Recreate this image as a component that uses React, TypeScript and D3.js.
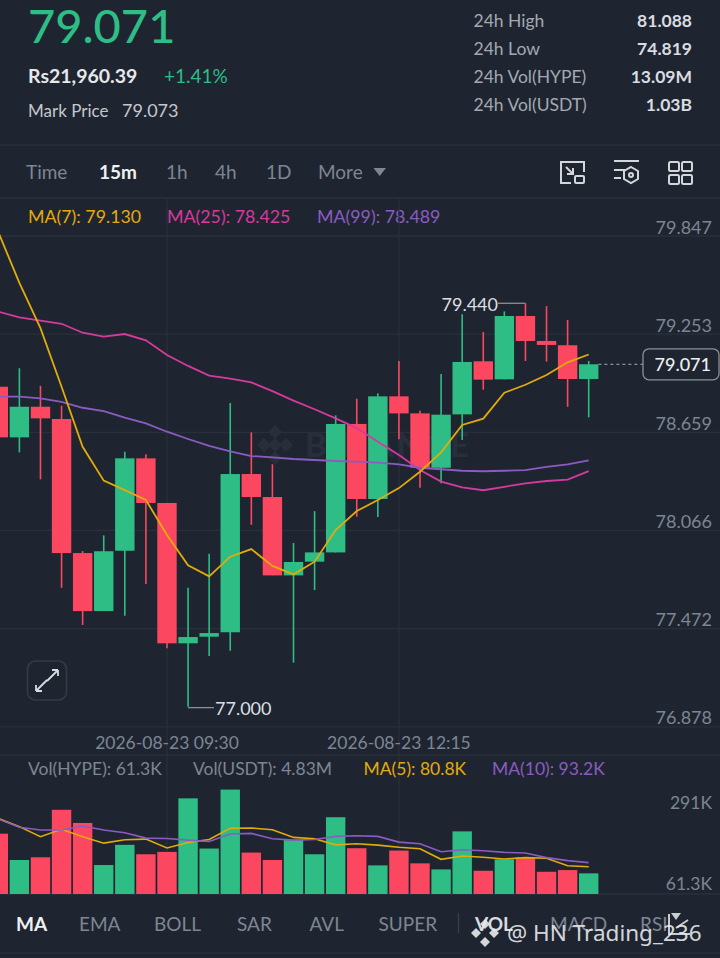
import * as d3 from "d3";
import React, { useEffect, useRef } from "react";

// 15m candles
const opens = [78.935, 78.629, 78.814, 78.74, 77.929, 77.578, 77.943, 78.502, 78.232, 77.383, 77.423, 77.45, 78.407, 78.268, 77.794, 77.877, 77.933, 78.71, 78.256, 78.877, 78.774, 78.445, 78.768, 79.089, 78.98, 79.363, 79.212, 79.186, 78.982];
const closes = [78.629, 78.814, 78.744, 77.929, 77.578, 77.94, 78.502, 78.232, 77.383, 77.421, 77.445, 78.407, 78.268, 77.794, 77.875, 77.933, 78.71, 78.256, 78.877, 78.774, 78.445, 78.766, 79.085, 78.978, 79.363, 79.212, 79.188, 78.982, 79.071];
const highs = [78.976, 79.047, 78.941, 78.82, 77.941, 78.036, 78.542, 78.526, 78.232, 77.719, 77.925, 78.837, 78.659, 78.466, 77.99, 78.183, 78.762, 78.863, 78.895, 79.091, 78.79, 79.012, 79.373, 79.266, 79.391, 79.44, 79.423, 79.339, 79.091];
const lows = [78.583, 78.538, 78.375, 77.719, 77.494, 77.578, 77.55, 77.742, 77.353, 77.0, 77.306, 77.338, 78.1, 77.794, 77.266, 77.705, 77.933, 78.149, 78.147, 78.617, 78.324, 78.351, 78.613, 78.917, 78.98, 79.091, 79.087, 78.814, 78.75];
const ma7 = [79.871, 79.563, 79.29, 78.935, 78.572, 78.367, 78.31, 78.25, 78.038, 77.855, 77.788, 77.907, 77.953, 77.851, 77.8, 77.877, 78.068, 78.183, 78.25, 78.322, 78.421, 78.538, 78.704, 78.742, 78.899, 78.947, 79.006, 79.083, 79.13];
const ma25 = [79.389, 79.355, 79.335, 79.316, 79.262, 79.238, 79.254, 79.216, 79.127, 79.061, 79.002, 78.984, 78.962, 78.909, 78.851, 78.799, 78.744, 78.685, 78.603, 78.522, 78.431, 78.361, 78.327, 78.309, 78.33, 78.351, 78.365, 78.373, 78.425];
const ma99 = [78.875, 78.875, 78.865, 78.843, 78.808, 78.787, 78.748, 78.714, 78.663, 78.619, 78.577, 78.544, 78.516, 78.508, 78.498, 78.492, 78.486, 78.482, 78.476, 78.466, 78.445, 78.436, 78.427, 78.424, 78.427, 78.431, 78.451, 78.466, 78.489];
const volumes = [179, 101, 109, 250, 211, 86, 146, 118, 125, 284, 135, 310, 123, 101, 160, 118, 228, 136, 85, 129, 91, 73, 186, 69, 103, 109, 66, 71, 61.3];
const volMa5 = [224.5, 200, 170, 192, 170, 151, 161, 163, 136.5, 153, 162, 195, 196, 191, 168, 164, 146, 149, 145, 139, 134.5, 103, 113, 109, 104, 108, 106, 84, 80.8];
const volMa10 = [222.5, 198, 190, 190, 202, 190, 182, 166, 165, 160, 156, 178, 180, 164, 160, 162, 171, 173, 171, 154, 149, 125.6, 131.5, 128.6, 123.6, 121.6, 108, 99, 93.2];

const priceTicks = [79.847, 79.253, 78.659, 78.066, 77.472, 76.878];
const timeTicks = [{ i: 8, label: "2026-08-23 09:30" }, { i: 19, label: "2026-08-23 12:15" }];
const lastPrice = 79.071;
const statRows = [
  ["24h High", "81.088"],
  ["24h Low", "74.819"],
  ["24h Vol(HYPE)", "13.09M"],
  ["24h Vol(USDT)", "1.03B"],
];
const intervals: [string, number][] = [["Time", 26], ["15m", 99], ["1h", 166], ["4h", 215], ["1D", 266], ["More", 318]];
const indicators: [string, number][] = [["MA", 16], ["EMA", 79], ["BOLL", 154], ["SAR", 237], ["AVL", 309.5], ["SUPER", 378.5], ["VOL", 475], ["MACD", 550], ["RSI", 640]];

const BG = "#1f2530";
const GRID = "#2a303b";
const GREEN = "#2ebd85";
const RED = "#fb4860";
const ORANGE = "#e2ab0c";
const MAGENTA = "#d53a9f";
const PURPLE = "#8a5cc2";
const MUTED = "#7d8693";
const FONT = "Lato, sans-serif";

const App: React.FC = () => {
  const ref = useRef<SVGSVGElement | null>(null);

  useEffect(() => {
    if (!ref.current) return;
    const svg = d3.select(ref.current);
    svg.selectAll("*").remove();

    const x = d3.scaleLinear().domain([0, 28]).range([-1.7, 588.7]);
    const y = d3.scaleLinear().domain([76.878, 79.847]).range([726.8, 236]);
    const yVol = d3.scaleLinear().domain([0, 291]).range([894, 796]);
    const idx = d3.range(opens.length);
    const bodyW = 19.4;

    const text = (s: string, px: number, py: number, size: number, fill: string, weight = 400, anchor = "start") =>
      svg.append("text").attr("x", px).attr("y", py).attr("font-size", size).attr("fill", fill)
        .attr("font-weight", weight).attr("text-anchor", anchor).attr("font-family", FONT).text(s);
    const hline = (y0: number, x1 = 0, x2 = 720) =>
      svg.append("line").attr("x1", x1).attr("x2", x2).attr("y1", y0).attr("y2", y0).attr("stroke", GRID).attr("stroke-width", 1.3);

    svg.append("rect").attr("width", 720).attr("height", 958).attr("fill", BG);

    // header
    text("79.071", 28, 43, 47, GREEN, 500);
    text("Rs21,960.39", 28, 83, 19.5, "#e6e8eb", 700);
    text("+1.41%", 164, 83, 19, GREEN);
    text("Mark Price", 28, 116.5, 17, "#c4c8ce");
    text("79.073", 122, 116.5, 18, "#c4c8ce");
    statRows.forEach(([k, v], i) => {
      text(k, 473.5, 27 + i * 28, 17.5, "#a3a9b3");
      text(v, 692, 27 + i * 28, 17.5, "#d9dce0", 700, "end");
    });
    hline(145);
    hline(198);

    // interval tabs
    intervals.forEach(([s, px]) =>
      text(s, px, 179, 19, s === "15m" ? "#eef0f2" : MUTED, s === "15m" ? 700 : 400));
    svg.append("path").attr("d", "M373.5 168H386L379.7 176Z").attr("fill", MUTED);

    // toolbar icons
    const icons = svg.append("g").attr("fill", "none").attr("stroke", "#d3d6da").attr("stroke-width", 2);
    icons.append("path").attr("d", "M571 183H561V162H584V172M566 167L573 174M573 168V174H567");
    icons.append("rect").attr("x", 575).attr("y", 176).attr("width", 9).attr("height", 7).attr("rx", 1);
    icons.append("path").attr("d", "M614 161H639M614 170H625M614 178H621");
    icons.append("path").attr("d", "M631 167L638 171V179L631 183L624 179V171Z");
    icons.append("circle").attr("cx", 631).attr("cy", 175).attr("r", 2);
    [[669, 162], [682, 162], [669, 175], [682, 175]].forEach(([a, b]) =>
      icons.append("rect").attr("x", a).attr("y", b).attr("width", 10).attr("height", 9).attr("rx", 1.5));

    // legend
    text("MA(7): 79.130", 28, 223, 17.8, ORANGE);
    text("MA(25): 78.425", 167, 223, 17.8, MAGENTA);
    text("MA(99): 78.489", 317, 223, 17.8, PURPLE);

    // grid
    priceTicks.forEach((t) => hline(y(t)));
    hline(755);
    hline(894);
    hline(953);
    timeTicks.forEach((t) =>
      svg.append("line").attr("x1", x(t.i)).attr("x2", x(t.i)).attr("y1", 198).attr("y2", 894)
        .attr("stroke", GRID).attr("stroke-width", 1.3));

    // faint exchange mark behind the candles
    const wm = svg.append("g").attr("fill", "#292f3a");
    [[275, 432], [264, 445], [286, 445], [275, 458], [275, 445]].forEach(([a, b]) =>
      wm.append("path").attr("d", `M${a} ${b - 7}L${a + 7} ${b}L${a} ${b + 7}L${a - 7} ${b}Z`));
    wm.append("text").attr("x", 305).attr("y", 457).attr("font-family", FONT).attr("font-weight", 700)
      .attr("font-size", 33).attr("letter-spacing", 3).text("BINANCE");

    // price axis
    const axis = svg.append("g").attr("transform", "translate(712,0)")
      .call(d3.axisLeft(y).tickValues(priceTicks).tickFormat(d3.format(".3f")).tickSize(0));
    axis.select(".domain").remove();
    axis.selectAll("text").attr("dy", "-3").attr("x", 0).attr("font-size", 18)
      .attr("font-family", FONT).attr("fill", MUTED);

    // candles
    const candle = svg.append("g").selectAll("g").data(idx).enter().append("g")
      .attr("fill", (i) => (closes[i] >= opens[i] ? GREEN : RED))
      .attr("stroke", (i) => (closes[i] >= opens[i] ? GREEN : RED));
    candle.append("line").attr("x1", (i) => x(i)).attr("x2", (i) => x(i))
      .attr("y1", (i) => y(highs[i])).attr("y2", (i) => y(lows[i])).attr("stroke-width", 1.6);
    candle.append("rect").attr("x", (i) => x(i) - bodyW / 2).attr("width", bodyW)
      .attr("y", (i) => y(Math.max(opens[i], closes[i])))
      .attr("height", (i) => Math.abs(y(opens[i]) - y(closes[i]))).attr("stroke", "none");

    // moving averages
    const priceLine = d3.line<number>().x((_d, i) => x(i)).y((d) => y(d));
    const volLine = d3.line<number>().x((_d, i) => x(i)).y((d) => yVol(d));
    ([[ma25, MAGENTA], [ma99, PURPLE], [ma7, ORANGE]] as [number[], string][]).forEach(([d, c]) =>
      svg.append("path").attr("d", priceLine(d)).attr("fill", "none").attr("stroke", c).attr("stroke-width", 1.8));

    // high / low callouts
    const hi = d3.max(highs)!;
    const lo = d3.min(lows)!;
    const hiX = x(highs.indexOf(hi));
    const loX = x(lows.indexOf(lo));
    svg.append("path").attr("d", `M${hiX} ${y(hi)}H498`).attr("stroke", "#8b9098").attr("stroke-width", 1.3);
    svg.append("path").attr("d", `M${loX} ${y(lo) + 1}H214`).attr("stroke", "#8b9098").attr("stroke-width", 1.3);
    text(hi.toFixed(3), 498, y(hi) + 7.5, 18, "#dcdfe3", 400, "end");
    text(lo.toFixed(3), 215, y(lo) + 8, 18, "#dcdfe3");

    // last price tag
    const py = y(lastPrice);
    svg.append("line").attr("x1", x(28) + bodyW / 2).attr("x2", 643).attr("y1", py).attr("y2", py)
      .attr("stroke", "#8b9098").attr("stroke-width", 1.2).attr("stroke-dasharray", "3 3");
    svg.append("rect").attr("x", 643).attr("y", py - 15.5).attr("width", 76).attr("height", 31).attr("rx", 6)
      .attr("fill", BG).attr("stroke", "#8b9098").attr("stroke-width", 1.3);
    text(lastPrice.toFixed(3), 711, py + 6.5, 18, "#eef0f2", 500, "end");

    // expand button
    svg.append("rect").attr("x", 27.5).attr("y", 661).attr("width", 39).attr("height", 39).attr("rx", 8)
      .attr("fill", BG).attr("stroke", "#343b47").attr("stroke-width", 1.6);
    svg.append("path").attr("d", "M36 691L47 680M36 691V685M36 691H42M58 670L47 681M58 670V676M58 670H52")
      .attr("fill", "none").attr("stroke", "#d8dbdf").attr("stroke-width", 1.8);

    // time axis
    timeTicks.forEach((t) => text(t.label, x(t.i), 749, 17.5, MUTED, 400, "middle"));

    // volume pane
    text("Vol(HYPE): 61.3K", 28, 775, 17.5, MUTED);
    text("Vol(USDT): 4.83M", 193, 775, 17.5, MUTED);
    text("MA(5): 80.8K", 363.5, 775, 17.5, ORANGE);
    text("MA(10): 93.2K", 492, 775, 17.5, PURPLE);
    svg.append("g").selectAll("rect").data(idx).enter().append("rect")
      .attr("x", (i) => x(i) - bodyW / 2).attr("width", bodyW)
      .attr("y", (i) => yVol(volumes[i])).attr("height", (i) => 894 - yVol(volumes[i]))
      .attr("fill", (i) => (closes[i] >= opens[i] ? GREEN : RED));
    ([[volMa5, ORANGE], [volMa10, PURPLE]] as [number[], string][]).forEach(([d, c]) =>
      svg.append("path").attr("d", volLine(d)).attr("fill", "none").attr("stroke", c).attr("stroke-width", 1.6));
    text("291K", 712, yVol(291) + 13, 17.5, MUTED, 400, "end");
    text("61.3K", 712, yVol(61.3) + 16.5, 17.5, MUTED, 400, "end");

    // indicator tabs
    indicators.forEach(([s, px]) =>
      text(s, px, 931, 19, s === "MA" ? "#eef0f2" : s === "VOL" ? "#d9dce0" : MUTED, s === "MA" || s === "VOL" ? 700 : 400));
    svg.append("line").attr("x1", 458.5).attr("x2", 458.5).attr("y1", 913).attr("y2", 933).attr("stroke", "#3a414d").attr("stroke-width", 1.3);
    svg.append("path").attr("d", "M669 914V934H690M676 928L688 920").attr("fill", "none").attr("stroke", "#c9ccd1").attr("stroke-width", 2);
    svg.append("path").attr("d", "M671 913H681L676 920Z").attr("fill", "#c9ccd1");

    // overlaid watermark
    const mark = svg.append("g").attr("fill", "#e8eaed").attr("fill-opacity", 0.9);
    [[485, 924], [476, 933], [494, 933], [485, 942]].forEach(([a, b]) =>
      mark.append("path").attr("d", `M${a} ${b - 5}L${a + 5} ${b}L${a} ${b + 5}L${a - 5} ${b}Z`));
    svg.append("text").attr("x", 507).attr("y", 941).attr("font-family", "'Noto Sans', sans-serif")
      .attr("font-size", 22.5).attr("fill", "#eceef0").attr("fill-opacity", 0.9).text("@ HN Trading_236");
  }, []);

  return <svg ref={ref} width={720} height={958} style={{ position: "fixed", left: 0, top: 0 }}></svg>;
};

export default App;
